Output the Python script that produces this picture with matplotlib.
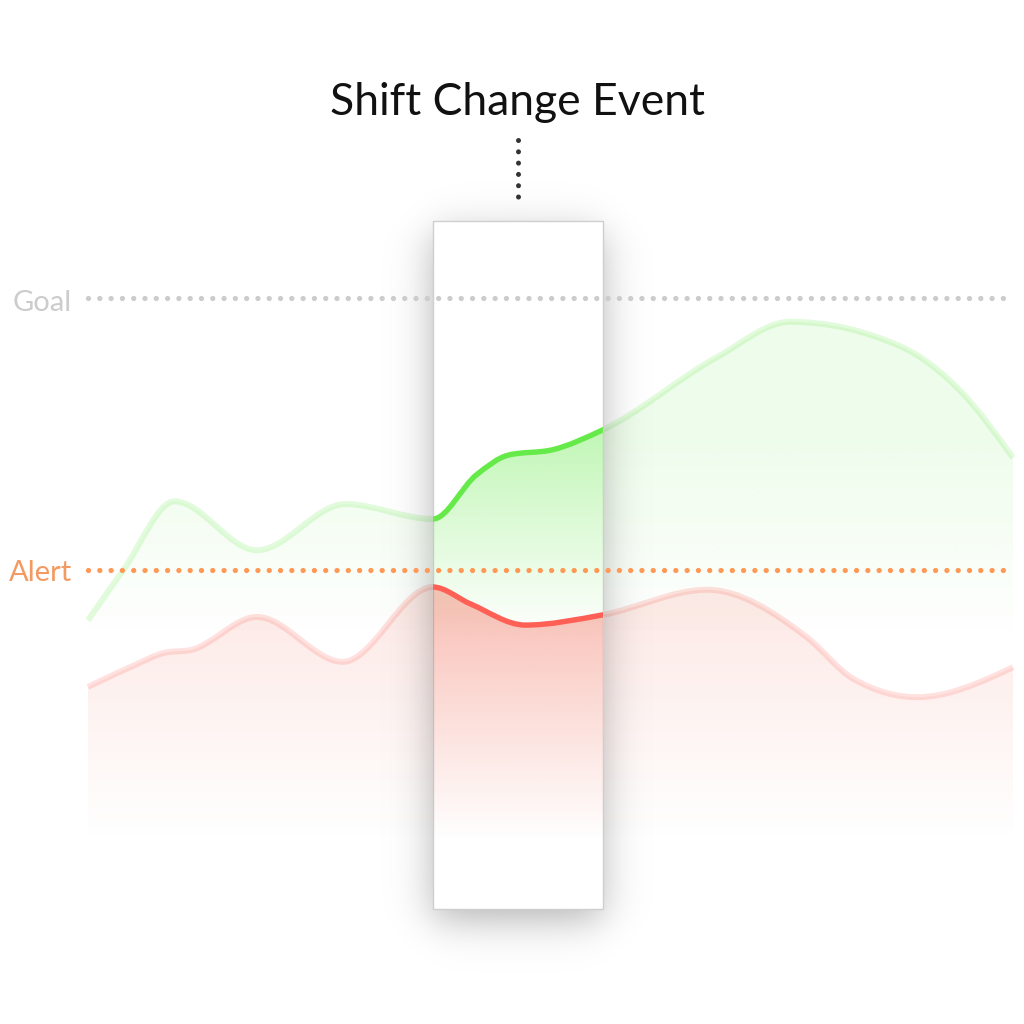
import numpy as np
import matplotlib
matplotlib.use('Agg')
from matplotlib import pyplot as plt
from matplotlib.path import Path
from matplotlib.patches import PathPatch, Rectangle
from matplotlib.colors import to_rgb

# hours into the window and KPI value of the two series
green_x = [0, 0.42, 1.03, 2.01, 3.06, 4.10, 4.62, 5.00, 5.53, 6.12, 7.48, 8.35, 9.66, 10.40, 11.0]
green_y = [32.6, 40.0, 50.1, 42.9, 49.7, 47.5, 54.0, 56.9, 57.7, 60.6, 71.3, 76.5, 72.9, 66.0, 56.5]
red_x = [0, 0.50, 0.94, 1.21, 2.01, 3.03, 4.10, 4.55, 5.20, 6.12, 7.36, 8.55, 9.10, 9.86, 11.0]
red_y = [22.8, 25.7, 27.9, 28.2, 33.1, 26.5, 37.5, 35.0, 31.9, 33.4, 37.1, 30.1, 24.0, 21.3, 25.7]

goal_value = 80
alert_value = 40
event_start, event_end = 4.10, 6.12
event_label = 'Shift Change Event'

GREEN = '#66ea4a'
RED = '#ff6055'
RED_FILL = '#f0604a'
FONT = ['Lato', 'DejaVu Sans']


def smooth_verts(xs, ys):
    # monotone cubic in x (same idea as d3.curveMonotoneX), drawn as beziers
    x = np.asarray(xs, float)
    y = np.asarray(ys, float)
    h = np.diff(x)
    s = np.diff(y) / h
    t = np.zeros_like(y)
    for i in range(1, len(x) - 1):
        p = (s[i - 1] * h[i] + s[i] * h[i - 1]) / (h[i - 1] + h[i])
        t[i] = (np.sign(s[i - 1]) + np.sign(s[i])) * min(abs(s[i - 1]), abs(s[i]), 0.5 * abs(p))
    t[0] = (3 * s[0] - t[1]) / 2
    t[-1] = (3 * s[-1] - t[-2]) / 2
    verts = [(x[0], y[0])]
    codes = [Path.MOVETO]
    for i in range(len(x) - 1):
        d = h[i] / 3
        verts += [(x[i] + d, y[i] + d * t[i]), (x[i + 1] - d, y[i + 1] - d * t[i + 1]), (x[i + 1], y[i + 1])]
        codes += [Path.CURVE4] * 3
    return verts, codes


def area_path(xs, ys):
    verts, codes = smooth_verts(xs, ys)
    verts = verts + [(xs[-1], 0), (xs[0], 0), (xs[0], 0)]
    codes = codes + [Path.LINETO, Path.LINETO, Path.CLOSEPOLY]
    return Path(verts, codes)


def gradient(ax, color, x0, x1, v_full, v_zero, a_max, clip, z):
    n = 300
    v = np.linspace(0, 125, n)
    img = np.zeros((n, 1, 4))
    img[..., :3] = to_rgb(color)
    img[:, 0, 3] = a_max * np.clip((v - v_zero) / (v_full - v_zero), 0, 1)
    im = ax.imshow(img, extent=[x0, x1, 0, 125], origin='lower', aspect='auto',
                   interpolation='bilinear', zorder=z)
    im.set_clip_path(clip)
    return im


fig = plt.figure(figsize=(10.24, 10.24), dpi=100)
ax = fig.add_axes([0, 0, 1, 1])
ax.set_axis_off()
xlim = (-1.0465, 11.131)
ylim = (-26.76, 123.82)

# x, y, line colour, fill colour, value at full fill, value at zero fill, fill alpha, fade
series = [(green_x, green_y, GREEN, GREEN, 60, 30, 0.40, 0.28),
          (red_x, red_y, RED, RED_FILL, 33, 0, 0.37, 0.35)]

# faded context outside the event window
for i, (xs, ys, c, fc, vf, vz, a, fade) in enumerate(series):
    clip = PathPatch(area_path(xs, ys), transform=ax.transData, facecolor='none', edgecolor='none')
    ax.add_patch(clip)
    gradient(ax, fc, xs[0], xs[-1], vf, vz, a * fade, clip, 1 + i)
    verts, codes = smooth_verts(xs, ys)
    ax.add_patch(PathPatch(Path(verts, codes), fill=False, edgecolor=c, alpha=0.19,
                           lw=4.3, capstyle='butt', zorder=3))

# shadow of the highlight window
px_x = 1024 / (xlim[1] - xlim[0])
px_y = 1024 / (ylim[1] - ylim[0])
rect_top, rect_bottom = 91.32, -9.85
gx = np.linspace(event_start - 1.3, event_end + 1.3, 220)
gy = np.linspace(rect_bottom - 18, rect_top + 8, 320)
X, Y = np.meshgrid(gx * px_x, gy * px_y)
s = 24
off = 12
fx = 0.5 * (np.tanh((X - event_start * px_x) / s) - np.tanh((X - event_end * px_x) / s))
fy = 0.5 * (np.tanh((Y - (rect_bottom * px_y - off)) / s) - np.tanh((Y - (rect_top * px_y - off)) / s))
shadow = np.zeros(X.shape + (4,))
shadow[..., 3] = 0.30 * fx * fy
ax.imshow(shadow, extent=[gx[0], gx[-1], gy[0], gy[-1]], origin='lower', aspect='auto',
          interpolation='bilinear', zorder=4)

window = Rectangle((event_start, rect_bottom), event_end - event_start, rect_top - rect_bottom,
                   facecolor='white', edgecolor='#cfcfcf', lw=1, zorder=5)
ax.add_patch(window)

# full-strength series inside the window
for i, (xs, ys, c, fc, vf, vz, a, fade) in enumerate(series):
    clip = PathPatch(area_path(xs, ys), transform=ax.transData, facecolor='none', edgecolor='none')
    ax.add_patch(clip)
    gradient(ax, fc, event_start, event_end, vf, vz, a, clip, 6 + i)
for xs, ys, c, *_ in series:
    verts, codes = smooth_verts(xs, ys)
    line = PathPatch(Path(verts, codes), fill=False, edgecolor=c, lw=3.9, zorder=8)
    ax.add_patch(line)
    line.set_clip_path(window)

# goal / alert thresholds
ax.plot([green_x[0], green_x[-1]], [goal_value] * 2, color='#cccccc', lw=3.8,
        linestyle=(0, (0.01, 2.13)), dash_capstyle='round', zorder=9)
ax.plot([green_x[0], green_x[-1]], [alert_value] * 2, color='#ff9955', lw=3.8,
        linestyle=(0, (0.01, 2.13)), dash_capstyle='round', zorder=9)
ax.text(-0.19, goal_value - 1.9, 'Goal', ha='right', va='baseline', fontsize=21,
        color='#cccccc', family=FONT, zorder=10)
ax.text(-0.19, alert_value - 1.6, 'Alert', ha='right', va='baseline', fontsize=21,
        color='#f39a62', family=FONT, zorder=10)

mid = (event_start + event_end) / 2
ax.plot([mid, mid], [103.2, 94.7], color='#333333', lw=3.6,
        linestyle=(0, (0.01, 2.25)), dash_capstyle='round', zorder=10)
ax.text(mid, 106.9, event_label, ha='center', va='baseline', fontsize=32,
        color='#111111', family=FONT, zorder=10)

ax.set_xlim(xlim)
ax.set_ylim(ylim)
fig.savefig('out.png', dpi=100, facecolor='white')
